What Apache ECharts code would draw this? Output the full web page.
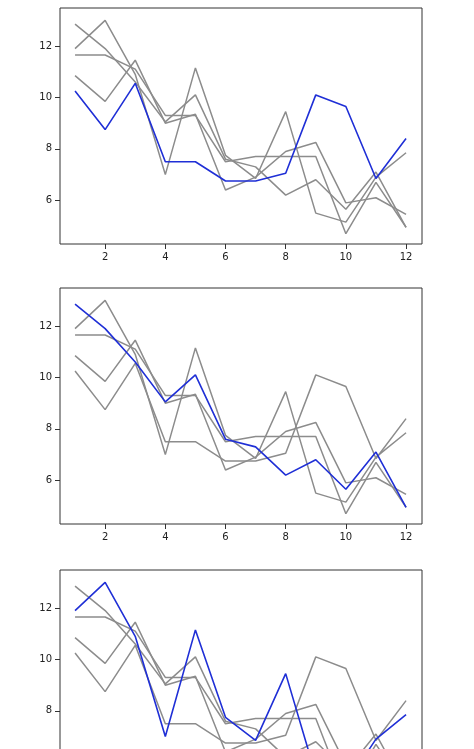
<!DOCTYPE html>
<html><head><meta charset="utf-8">
<script src="https://cdn.jsdelivr.net/npm/echarts@6/dist/echarts.min.js"></script>
<style>html,body{margin:0;padding:0;background:#fff;overflow:hidden;height:749px}#c{width:474px;height:830px}</style>
</head><body><div id="c"></div>
<script>
const xs = [1,2,3,4,5,6,7,8,9,10,11,12];
const sA = [10.25,8.75,10.55,7.5,7.5,6.75,6.75,7.05,10.1,9.65,6.85,8.4];
const sB = [12.85,11.9,10.6,9.05,10.1,7.6,7.3,6.2,6.8,5.65,7.1,4.95];
const sC = [11.9,13.0,10.9,7.0,11.15,7.75,6.85,9.45,5.5,5.15,6.9,7.85];
const sD = [11.65,11.65,11.1,9.3,9.3,7.5,7.7,7.7,7.7,4.7,6.7,4.95];
const sE = [10.85,9.85,11.45,9.0,9.35,6.4,6.9,7.9,8.25,5.9,6.1,5.45];
const allSeries = [sA,sB,sC,sD,sE];
const highlight = [0,1,2];
const xTicks = [2,4,6,8,10,12];
const yTicks = [6,8,10,12];
const tops = [8,288,570];
const chart = echarts.init(document.getElementById('c'));
const grids=[],xAxes=[],yAxes=[],series=[];
tops.forEach((t,i)=>{
  grids.push({left:60,width:362,top:t,height:236,show:true,borderColor:'#333',borderWidth:1,containLabel:false});
  xAxes.push({type:'value',gridIndex:i,min:0.5,max:12.53,axisLine:{show:false},splitLine:{show:false},
    axisTick:{show:true,customValues:xTicks,lineStyle:{color:'#333'}},
    axisLabel:{customValues:xTicks,fontSize:10,color:'#222',fontFamily:'DejaVu Sans'}});
  yAxes.push({type:'value',gridIndex:i,min:4.3,max:13.48,axisLine:{show:false},splitLine:{show:false},
    axisTick:{show:true,customValues:yTicks,lineStyle:{color:'#333'}},
    axisLabel:{customValues:yTicks,fontSize:10,color:'#222',fontFamily:'DejaVu Sans'}});
  const order = allSeries.map((s,k)=>k).filter(k=>k!==highlight[i]).concat([highlight[i]]);
  order.forEach(k=>{
    const hl = k===highlight[i];
    series.push({type:'line',xAxisIndex:i,yAxisIndex:i,symbol:'none',silent:true,
      data:xs.map((x,j)=>[x,allSeries[k][j]]),
      lineStyle:{color:hl?'#1f2fd6':'#8c8c8c',width:hl?1.6:1.5},z:hl?3:2});
  });
});
chart.setOption({animation:false,grid:grids,xAxis:xAxes,yAxis:yAxes,series});
</script></body></html>
